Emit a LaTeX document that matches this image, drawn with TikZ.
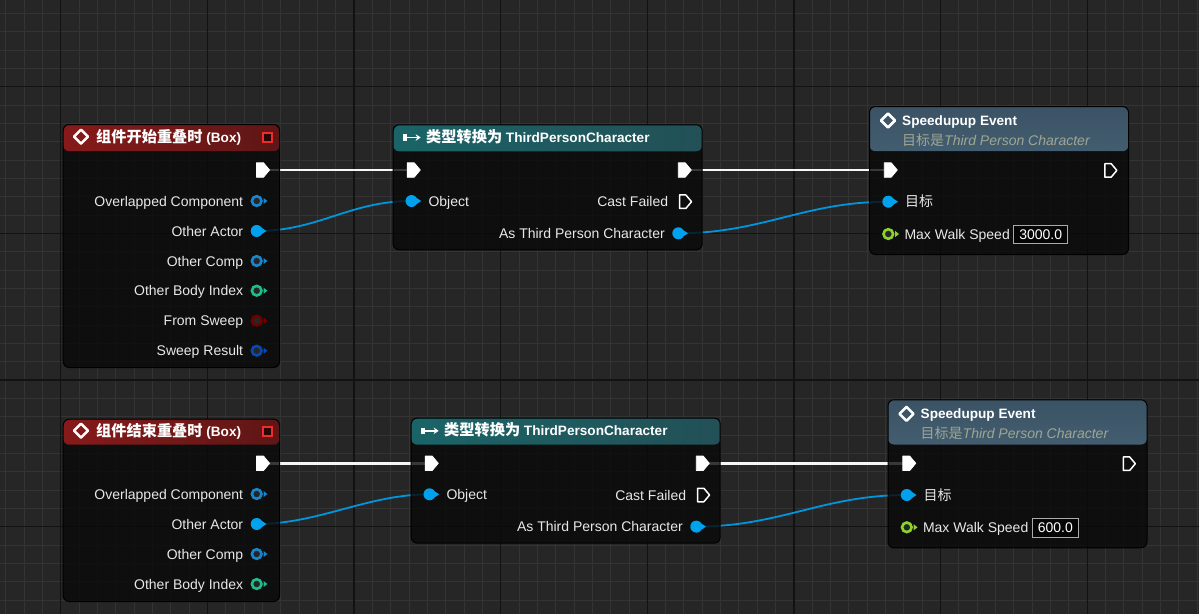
\documentclass[tikz,border=0pt]{standalone}
\usepackage{fontspec}
\setmainfont{Liberation Sans}
\newfontfamily\cjk{Noto Sans CJK SC}
\newcommand\cjkt{\cjk\fontsize{15.2}{16}\selectfont}
\usetikzlibrary{shapes.symbols,arrows.meta}
\pgfdeclarelayer{grid}
\pgfdeclarelayer{wires}
\pgfsetlayers{grid,wires,main}

\definecolor{gridbg}{RGB}{38,38,38}
\definecolor{minorc}{RGB}{52,52,52}
\definecolor{majorc}{RGB}{18,18,18}
\definecolor{nodebg}{RGB}{8,9,9}
\definecolor{lbltext}{RGB}{232,232,232}
\definecolor{subtxt}{RGB}{160,166,146}
\definecolor{evL}{RGB}{135,26,26}
\definecolor{evR}{RGB}{95,22,22}
\definecolor{caL}{RGB}{26,100,104}
\definecolor{caR}{RGB}{34,80,86}
\definecolor{spT}{RGB}{58,82,100}
\definecolor{spB}{RGB}{88,120,140}
\definecolor{pinblue}{RGB}{0,162,238}
\definecolor{wireblue}{RGB}{0,150,222}
\definecolor{ringblue}{RGB}{22,135,205}
\definecolor{ringdeep}{RGB}{8,72,176}
\definecolor{ringteal}{RGB}{30,190,140}
\definecolor{ringred}{RGB}{112,0,0}
\definecolor{ringgreen}{RGB}{140,212,40}
\definecolor{redsq}{RGB}{235,45,45}
\definecolor{redsqfill}{RGB}{45,4,4}
\definecolor{valborder}{RGB}{170,170,170}

\tikzset{
  lbl/.style={text=lbltext, font=\fontsize{14}{16}\selectfont, inner sep=0pt, text height=10pt, text depth=0pt},
  ttl/.style={text=white, font=\fontsize{13.6}{16}\selectfont\bfseries, inner sep=0pt, text height=10pt, text depth=0pt, anchor=west},
  sub/.style={text=subtxt, font=\fontsize{14}{16}\selectfont, inner sep=0pt, text height=10pt, text depth=0pt, anchor=west},
  bpnode/.style={rounded corners=6pt, fill=nodebg, fill opacity=0.8, draw=black, line width=1pt, inner sep=0pt, anchor=north west},
  hdr/.style n args={3}{path picture={\shade[fill opacity=1, left color=#2, right color=#3] (path picture bounding box.north west) rectangle ([yshift=-#1pt]path picture bounding box.north east);}},
  hdrv/.style={path picture={\shade[fill opacity=1, top color=spT, bottom color=spB] (path picture bounding box.north west) rectangle ([yshift=-#1pt]path picture bounding box.north east);}},
  execpin/.style={signal, signal to=east, signal pointer angle=100, minimum width=13pt, minimum height=14.5pt, inner sep=0pt, fill=white, draw=white, line width=0.8pt, line join=round},
  execout/.style={execpin, fill=none, line width=1.5pt, minimum width=12pt, minimum height=13.5pt},
  dpinS/.style={circle, fill=#1, minimum size=12pt, inner sep=0pt},
  rpinS/.style={circle, draw=#1, fill=black!85, line width=2.6pt, minimum size=9.6pt, inner sep=0pt},
  icon/.style={draw=white, line width=2.5pt, line join=round},
  valbox/.style={draw=valborder, fill=black, fill opacity=0.6, text opacity=1, line width=1pt, inner xsep=5.5pt, inner ysep=0pt, minimum height=18.5pt, font=\fontsize{14}{16}\selectfont, text=white, text height=10pt, text depth=0pt, anchor=west},
  execwire/.style={draw=white!94!gray, line width=2.8pt},
  datawire/.style={draw=wireblue, line width=1.8pt},
  delsq/.style={draw=redsq, fill=redsqfill, line width=2pt, minimum size=9.5pt, inner sep=0pt}
}

\newcommand\dpin[3]{\node[dpinS=#3] (#1) at (#2) {};
  \fill[#3] ([xshift=-1pt]#1.east) -- ++(0,3) -- ++(4.5,-3) -- ++(-4.5,-3) -- cycle;}
\newcommand\rpin[3]{\node[rpinS=#3] (#1) at (#2) {};
  \fill[#3] ([xshift=0.8pt]#1.east) -- ++(0,3) -- ++(3.8,-3) -- ++(-3.8,-3) -- cycle;}
\newcommand\diam[2]{\draw[icon] (#1,#2) ++(0,-7) -- ++(7,7) -- ++(-7,7) -- ++(-7,-7) -- cycle;}

\newcommand\castnode[1]{%
  \node[bpnode, hdr={26.5}{caL}{caR}, minimum width=309pt, minimum height=125pt] (#1) at (392.7,124.3) {};
  \draw[white!90, line width=3.4pt] (405,134.4) -- (405,140.6);
  \draw[white!90, line width=1.8pt, -{Stealth[length=5pt,width=6.5pt]}] (405,137.5) -- (420.7,137.5);
  \node[ttl] (#1t) at (426,137.5) {{\cjkt 类型转换为} ThirdPersonCharacter};
  \node[execpin] (#1xi) at (410.7,170) {};
  \node[execpin] (#1xo) at (681.7,170) {};
  \dpin{#1obj}{411.5,201}{pinblue}
  \node[lbl, anchor=west] (#1objl) at (428.3,201) {Object};
  \node[execout] (#1cf) at (682.7,201.7) {};
  \node[lbl, anchor=east] (#1cfl) at (668.3,201.7) {Cast Failed};
  \dpin{#1as}{678.3,233.3}{pinblue}
  \node[lbl, anchor=east] (#1asl) at (665,233.3) {As Third Person Character};
}

\newcommand\spnode[2]{%
  \node[bpnode, hdrv={44.7}, minimum width=259pt, minimum height=148pt] (#1) at (869,106) {};
  \diam{888}{120.5}
  \node[ttl] (#1t) at (902,120.5) {Speedupup Event};
  \node[sub] (#1s) at (902,140.5) {{\cjk 目标是}\textit{Third Person Character}};
  \node[execpin] (#1xi) at (887.7,170) {};
  \node[execout] (#1xo) at (1108,170.4) {};
  \dpin{#1tg}{888.3,201.7}{pinblue}
  \node[lbl, anchor=west] (#1tgl) at (905,201.7) {\cjk 目标};
  \rpin{#1ms}{888.3,234}{ringgreen}
  \node[lbl, anchor=west] (#1msl) at (904.3,234) {Max Walk Speed};
  \node[valbox] (#1v) at (1013.3,234.5) {#2};
}

\begin{document}
\begin{tikzpicture}[x=1pt,y=-1pt]
\useasboundingbox (0,0) rectangle (1199,614);

\begin{pgfonlayer}{grid}
  \fill[gridbg] (0,0) rectangle (1199,614);
  \foreach \i in {0,...,65} \draw[minorc, line width=1pt] ({5.67+18.333*\i},0) -- ++(0,614);
  \foreach \i in {0,...,34} \draw[minorc, line width=1pt] (0,{-5+18.333*\i}) -- ++(1199,0);
  \foreach \i in {0,...,7} \draw[majorc, line width=1.4pt] ({60.67+146.67*\i},0) -- ++(0,614);
  \foreach \i in {0,...,3} \draw[majorc, line width=1.4pt] (0,{86.67+146.67*\i}) -- ++(1199,0);
\end{pgfonlayer}

% ---------- top event node ----------
\node[bpnode, hdr={26.7}{evL}{evR}, minimum width=216.3pt, minimum height=243pt] (ev1) at (62.7,124) {};
\diam{81}{136.7}
\node[ttl] (ev1t) at (96,137) {{\cjkt 组件开始重叠时} (Box)};
\node[delsq] (ev1d) at (267.3,137.5) {};
\node[execpin] (ev1x) at (260,170) {};
\rpin{ev1p1}{256.7,201}{ringblue}
\dpin{ev1p2}{256.7,231}{pinblue}
\rpin{ev1p3}{256.7,261}{ringblue}
\rpin{ev1p4}{256.7,290.7}{ringteal}
\rpin{ev1p5}{256.7,320.7}{ringred}
\rpin{ev1p6}{256.7,350.7}{ringdeep}
\node[lbl, anchor=east] (ev1l1) at (243.3,201) {Overlapped Component};
\node[lbl, anchor=east] (ev1l2) at (243.3,231) {Other Actor};
\node[lbl, anchor=east] (ev1l3) at (243.3,261) {Other Comp};
\node[lbl, anchor=east] (ev1l4) at (243.3,290.7) {Other Body Index};
\node[lbl, anchor=east] (ev1l5) at (243.3,320.7) {From Sweep};
\node[lbl, anchor=east] (ev1l6) at (243.3,350.7) {Sweep Result};

% ---------- bottom event node ----------
\node[bpnode, hdr={25.5}{evL}{evR}, minimum width=216.3pt, minimum height=182.3pt] (ev2) at (62.7,418.7) {};
\diam{81}{430.7}
\node[ttl] (ev2t) at (96,431) {{\cjkt 组件结束重叠时} (Box)};
\node[delsq] (ev2d) at (267.3,431.3) {};
\node[execpin] (ev2x) at (260,463.3) {};
\rpin{ev2p1}{256.7,494}{ringblue}
\dpin{ev2p2}{256.7,524}{pinblue}
\rpin{ev2p3}{256.7,554}{ringblue}
\rpin{ev2p4}{256.7,584}{ringteal}
\node[lbl, anchor=east] (ev2l1) at (243.3,494) {Overlapped Component};
\node[lbl, anchor=east] (ev2l2) at (243.3,524) {Other Actor};
\node[lbl, anchor=east] (ev2l3) at (243.3,554) {Other Comp};
\node[lbl, anchor=east] (ev2l4) at (243.3,584) {Other Body Index};

% ---------- cast nodes ----------
\castnode{ca}
\begin{scope}[shift={(18,293.3)}]
  \castnode{cb}
\end{scope}

% ---------- speedup nodes ----------
\spnode{sa}{3000.0}
\begin{scope}[shift={(18.5,293.3)}]
  \spnode{sb}{600.0}
\end{scope}

% ---------- wires ----------
\begin{pgfonlayer}{wires}
  \draw[execwire] (ev1x.center) -- (caxi.center);
  \draw[execwire] (caxo.center) -- (saxi.center);
  \draw[datawire] (ev1p2.center) .. controls +(62,0) and +(-62,0) .. (caobj.center);
  \draw[datawire] (caas.center) .. controls +(84,0) and +(-84,0) .. (satg.center);
  \draw[execwire] (ev2x.center) -- (cbxi.center);
  \draw[execwire] (cbxo.center) -- (sbxi.center);
  \draw[datawire] (ev2p2.center) .. controls +(62,0) and +(-62,0) .. (cbobj.center);
  \draw[datawire] (cbas.center) .. controls +(84,0) and +(-84,0) .. (sbtg.center);
\end{pgfonlayer}
\end{tikzpicture}
\end{document}
